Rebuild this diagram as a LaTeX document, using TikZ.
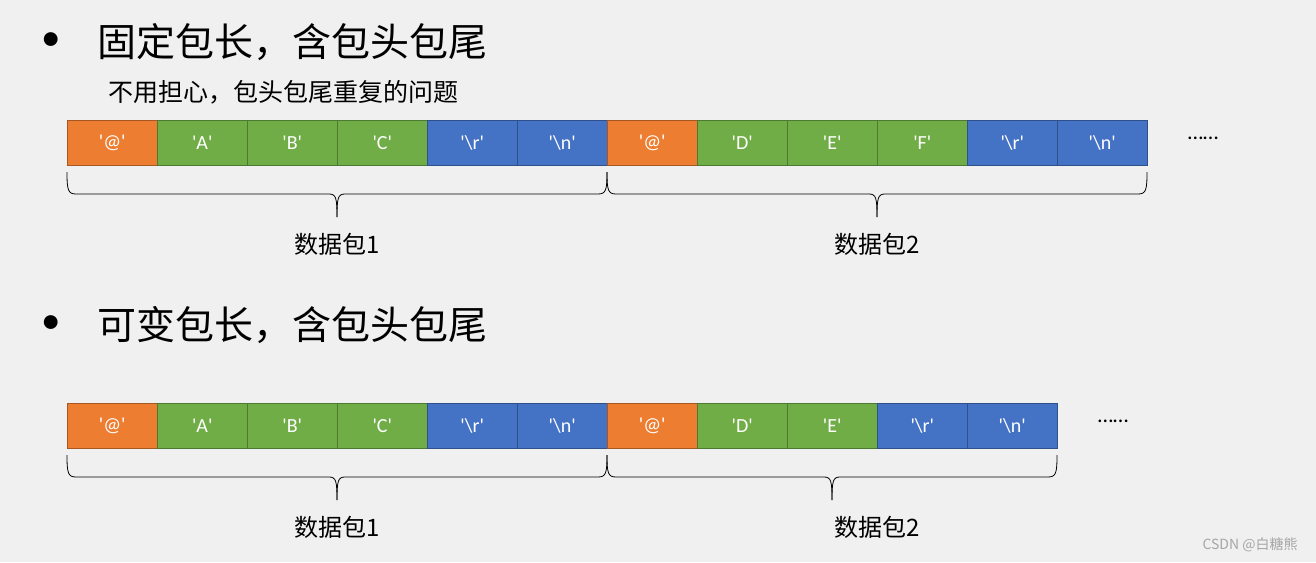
\documentclass[tikz,border=0pt]{standalone}
\usepackage{fontspec}
\setmainfont{Noto Sans CJK SC}
\newfontfamily\lat{Carlito}
\definecolor{bg}{HTML}{F0F0F0}
\definecolor{co}{HTML}{ED7D31}
\definecolor{cg}{HTML}{70AD47}
\definecolor{cb}{HTML}{4472C4}
\newcommand\mybrace[4]{% x0 xm x1 ytop
 \draw[line width=0.8pt] (#1,#4) .. controls (#1,#4+18) and (#1+1,#4+22) .. (#1+9,#4+22) -- (#2-8,#4+22) .. controls (#2-1,#4+22) and (#2,#4+26) .. (#2,#4+45);
 \draw[line width=0.8pt] (#3,#4) .. controls (#3,#4+18) and (#3-1,#4+22) .. (#3-9,#4+22) -- (#2+8,#4+22) .. controls (#2+1,#4+22) and (#2,#4+26) .. (#2,#4+45);}
\begin{document}
\begin{tikzpicture}[x=1pt,y=-1pt,
 cell/.style={draw=#1!70!black,line width=0.5pt,fill=#1,minimum width=90pt,minimum height=45pt,inner sep=0,text=white,font=\lat\fontsize{20}{20}\selectfont,anchor=north west},
 title/.style={anchor=west,font=\fontsize{39}{39}\selectfont},
 lab/.style={font=\fontsize{24}{24}\selectfont}]
\fill[bg] (0,0) rectangle (1316,562);
\node[title] (b1) at (38,42) {\lat\textbullet};
\node[title] (t1) at (94,42) {固定包长，含包头包尾};
\node[anchor=west,font=\fontsize{25}{25}\selectfont] (s1) at (105,92) {不用担心，包头包尾重复的问题};
\foreach \i/\c/\t in {0/co/@,1/cg/A,2/cg/B,3/cg/C,4/cb/\textbackslash r,5/cb/\textbackslash n,6/co/@,7/cg/D,8/cg/E,9/cg/F,10/cb/\textbackslash r,11/cb/\textbackslash n}
  \node[cell=\c] (a\i) at (67+90*\i,120) {\textquotesingle\t\textquotesingle};
\node[lab,font=\lat\fontsize{22}{22}\selectfont] (d1) at (1203,138) {……};
\mybrace{67}{337}{607}{172}
\mybrace{607}{877}{1147}{172}
\node[lab] (l1) at (337,244) {数据包1};
\node[lab] (l2) at (877,244) {数据包2};
\node[title] (b2) at (38,325) {\lat\textbullet};
\node[title] (t2) at (94,325) {可变包长，含包头包尾};
\foreach \i/\c/\t in {0/co/@,1/cg/A,2/cg/B,3/cg/C,4/cb/\textbackslash r,5/cb/\textbackslash n,6/co/@,7/cg/D,8/cg/E,9/cb/\textbackslash r,10/cb/\textbackslash n}
  \node[cell=\c] (c\i) at (67+90*\i,403) {\textquotesingle\t\textquotesingle};
\node[lab,font=\lat\fontsize{22}{22}\selectfont] (d2) at (1113,421) {……};
\mybrace{67}{337}{607}{455}
\mybrace{607}{832}{1057}{455}
\node[lab] (m1) at (337,527) {数据包1};
\node[lab] (m2) at (877,527) {数据包2};
\node[text=gray!70,font=\fontsize{14}{14}\selectfont] (w) at (1250,545) {CSDN @白糖熊};
\end{tikzpicture}
\end{document}
